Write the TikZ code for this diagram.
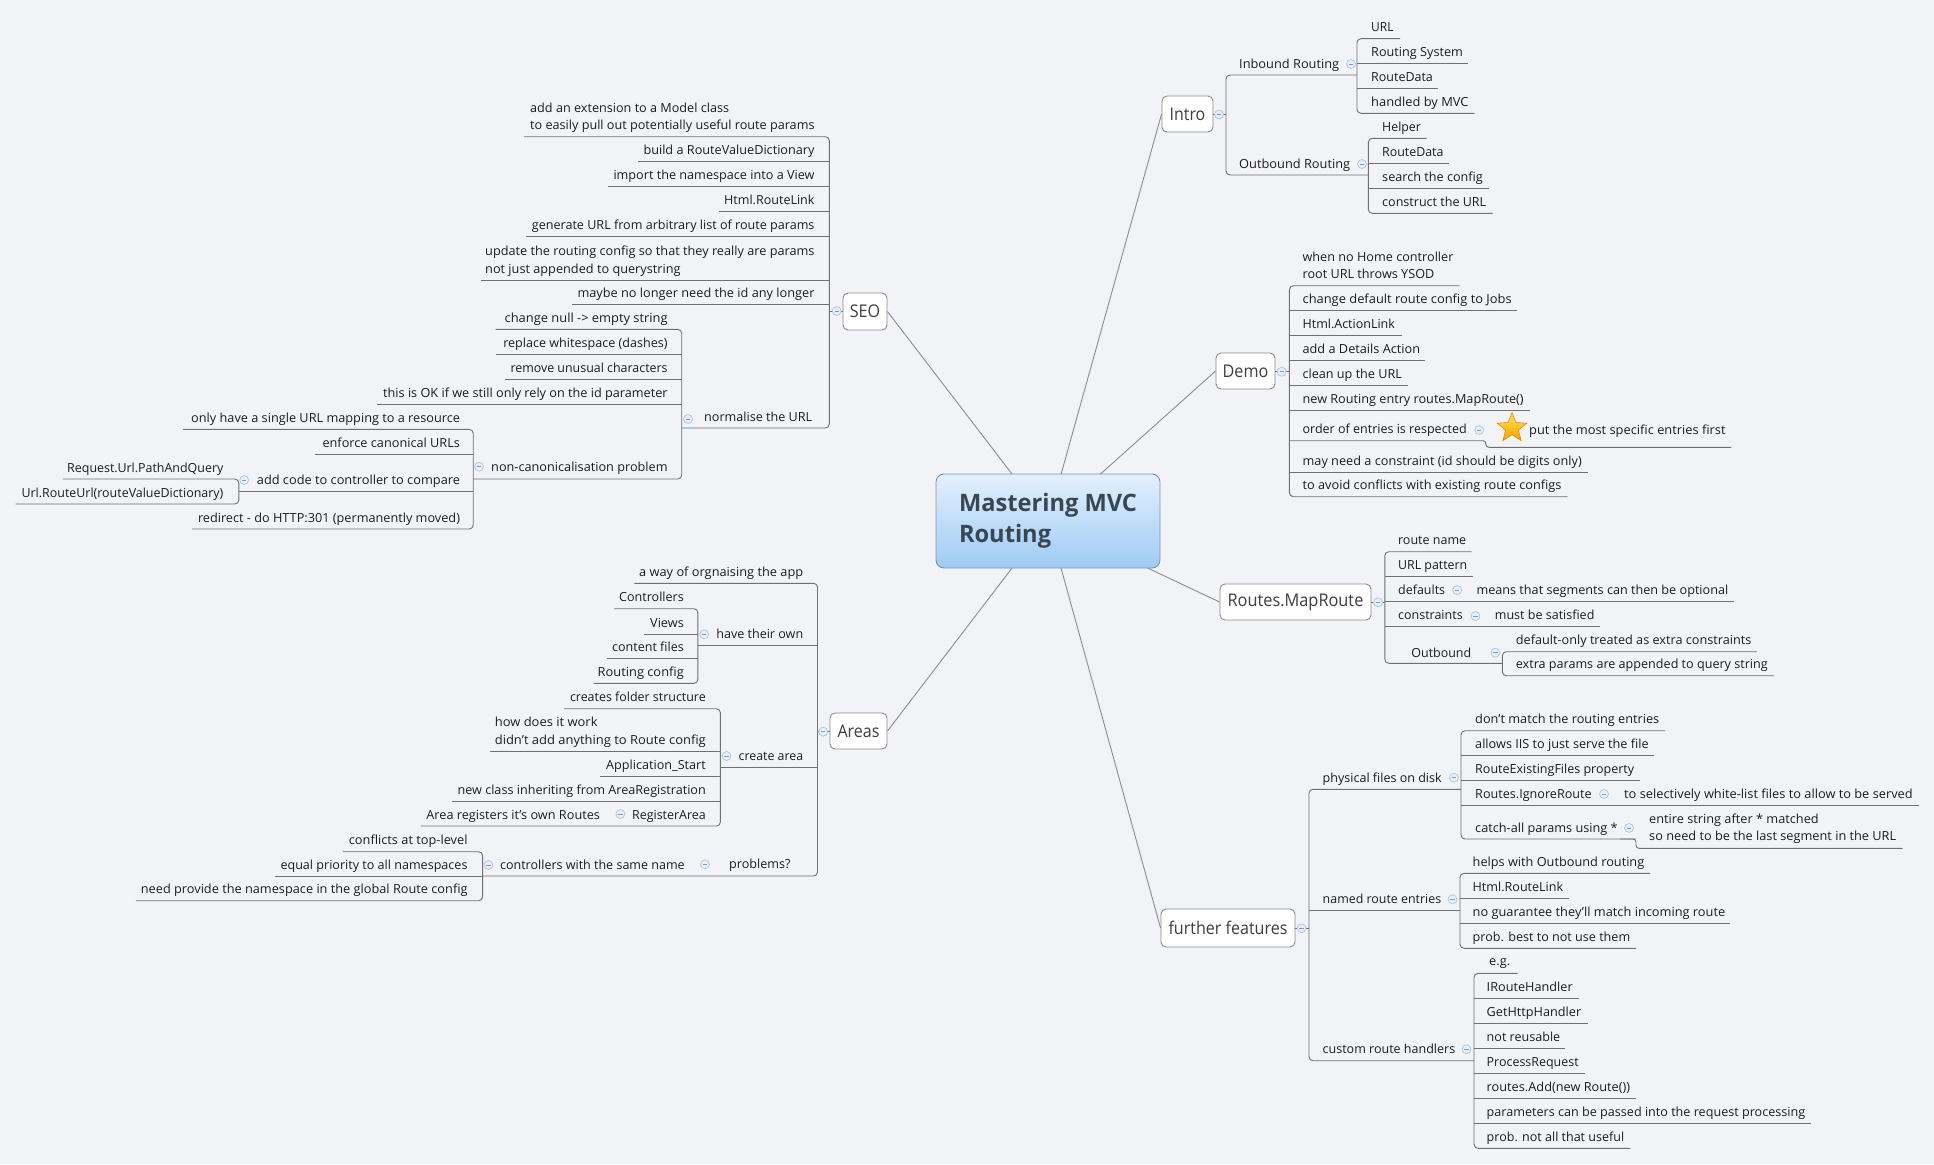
\documentclass[tikz,border=0pt]{standalone}
\usepackage{fontspec}
\setmainfont{Open Sans}
\usepackage{graphicx}
\usetikzlibrary{shapes.geometric}
\pgfdeclarelayer{bg}
\pgfsetlayers{bg,main}
\definecolor{bgc}{HTML}{F2F3F7}
\definecolor{lnc}{HTML}{707070}
\definecolor{brc}{HTML}{8C8C8C}
\definecolor{txc}{HTML}{1C1C1C}
\definecolor{mtb}{HTML}{8A8A8A}
\definecolor{btd}{HTML}{A9BED8}
\definecolor{btf}{HTML}{E6EEF8}
\definecolor{btm}{HTML}{7C9CC8}
\definecolor{rtop}{HTML}{E3F0FE}
\definecolor{rbot}{HTML}{9ECBF4}
\definecolor{rbd}{HTML}{7F91A8}
\definecolor{rtx}{HTML}{3A4653}
\definecolor{stt}{HTML}{FFE55A}
\definecolor{stb}{HTML}{F5A000}
\definecolor{std}{HTML}{D98A00}
\newcommand\T[5]{\pgfmathsetlengthmacro\tw{(#3)-(#2)}\node[txt,anchor=base west] (#1) at (#2,#4) {\resizebox{\tw}{\height}{#5}};}
\newcommand\TT[2]{\begin{tabular}[b]{@{}l@{}}#1\\#2\end{tabular}}
\newcommand\SP[5]{\draw[ln,rounded corners=4pt] (#2,#3) -- (#1,#3) -- (#1,#4) -- (#5,#4);}
\newcommand\HL[3]{\draw[ln] (#2,#1) -- (#3,#1);}
\newcommand\BT[3]{\node[btn] (#1) at (#2,#3) {};}
\begin{document}
\begin{tikzpicture}[x=1pt,y=-1pt,
  txt/.style={inner sep=0pt,text=txc,font=\fontsize{12.5}{17.5}\selectfont},
  ln/.style={draw=lnc,line width=0.9pt},
  br/.style={draw=brc,line width=0.9pt},
  mt/.style={draw=mtb,fill=white,rounded corners=5pt,inner sep=0pt,line width=0.9pt,text=txc!85!white,font=\fontsize{17.5}{20}\selectfont},
  btn/.style={circle,draw=btd,fill=btf,minimum size=9pt,inner sep=0pt,line width=0.6pt,
    path picture={\draw[btm,line width=0.8pt] ([xshift=-2.2pt]path picture bounding box.center) -- ([xshift=2.2pt]path picture bounding box.center);}},
  rootbox/.style={draw=rbd,top color=rtop,bottom color=rbot,rounded corners=8pt,line width=0.9pt,inner sep=0pt,
    minimum width=224pt,minimum height=94pt,text=rtx,font=\fontsize{24}{30.6}\selectfont\bfseries}
]
\useasboundingbox (0,0) rectangle (1934,1164);
\begin{pgfonlayer}{bg}
\fill[bgc] (0,0) rectangle (1934,1164);
\end{pgfonlayer}

% ---------- root and main topics ----------
\node[rootbox] (root) at (1048,521) {\resizebox{178pt}{\height}{\begin{tabular}{@{}l@{}}Mastering MVC\\Routing\end{tabular}}};
\node[mt,minimum width=51pt,minimum height=36pt] (intro) at (1187.5,114) {\resizebox{35.7pt}{\height}{Intro}};
\node[mt,minimum width=59pt,minimum height=36pt] (demo) at (1245.5,371) {\resizebox{45.6pt}{\height}{Demo}};
\node[mt,minimum width=151pt,minimum height=36pt] (rm) at (1295.5,602) {\resizebox{135.8pt}{\height}{Routes.MapRoute}};
\node[mt,minimum width=134pt,minimum height=38pt] (ff) at (1228,928) {\resizebox{119pt}{\height}{further features}};
\node[mt,minimum width=44pt,minimum height=37pt] (seo) at (865,311.5) {\resizebox{30.3pt}{\height}{SEO}};
\node[mt,minimum width=57pt,minimum height=36pt] (areas) at (858.5,731) {\resizebox{42pt}{\height}{Areas}};

\begin{pgfonlayer}{bg}
\draw[br] (root.center) -- (intro.west);
\draw[br] (root.center) -- (demo.west);
\draw[br] (root.center) -- (rm.west);
\draw[br] (root.center) -- (ff.west);
\draw[br] (root.center) -- (seo.east);
\draw[br] (root.center) -- (areas.east);
\end{pgfonlayer}

% ---------- Intro ----------
\draw[ln] (intro.east) -- (1226,114);
\SP{1226}{1357}{75}{175}{1368.3}
\SP{1357}{1400}{38.7}{113.3}{1474.3}
\HL{63.3}{1357}{1468}
\HL{88.3}{1357}{1438.3}
\SP{1368.3}{1426.7}{138.3}{213.3}{1492.7}
\HL{163.3}{1368.3}{1449}
\HL{188.3}{1368.3}{1489.3}
\T{ib}{1239}{1339}{68}{Inbound Routing}
\T{i1}{1371}{1393.3}{31.7}{URL}
\T{i2}{1371}{1462.7}{56.3}{Routing System}
\T{i3}{1371}{1432.7}{81.3}{RouteData}
\T{i4}{1371}{1468.3}{106.3}{handled by MVC}
\T{ob}{1239}{1350}{168}{Outbound Routing}
\T{o1}{1382}{1420.7}{131.3}{Helper}
\T{o2}{1382}{1443.3}{156.3}{RouteData}
\T{o3}{1382}{1482.7}{181.3}{search the config}
\T{o4}{1382}{1486}{206.3}{construct the URL}

% ---------- Demo ----------
\draw[ln] (demo.east) -- (1289.4,371);
\SP{1289.4}{1459.6}{285.7}{496.7}{1567.6}
\HL{310}{1289.4}{1517.4}
\HL{335.7}{1289.4}{1401.7}
\HL{360.7}{1289.4}{1425.2}
\HL{385}{1289.4}{1407.6}
\HL{410}{1289.4}{1529.7}
\HL{472.3}{1289.4}{1587.6}
\draw[ln,rounded corners=3pt] (1289.4,440.7) -- (1485.9,440.7) -- (1485.9,447.3) -- (1731.4,447.3);
\T{d1}{1302.4}{1453.2}{278.7}{\TT{when no Home controller}{root URL throws YSOD}}
\T{d2}{1302.4}{1511.5}{303}{change default route config to Jobs}
\T{d3}{1302.4}{1394.7}{328.7}{Html.ActionLink}
\T{d4}{1302.4}{1419.9}{353.7}{add a Details Action}
\T{d5}{1302.4}{1401.7}{378}{clean up the URL}
\T{d6}{1302.4}{1523.4}{403}{new Routing entry routes.MapRoute()}
\T{d7}{1302.4}{1466.6}{433.7}{order of entries is respected}
\node[star,star points=5,star point ratio=2.3,minimum size=31pt,inner sep=0pt,top color=stt,bottom color=stb,draw=std,line width=0.6pt] (star) at (1512,428) {};
\T{d7a}{1529}{1725.4}{434.5}{put the most specific entries first}
\T{d8}{1302.4}{1581.6}{465.3}{may need a constraint (id should be digits only)}
\T{d9}{1302.4}{1561.3}{489.7}{to avoid conflicts with existing route configs}

% ---------- Routes.MapRoute ----------
\draw[ln] (rm.east) -- (1384.8,602);
\SP{1384.8}{1471.7}{551.7}{663.3}{1502.3}
\HL{576.7}{1384.8}{1472.9}
\HL{601}{1384.8}{1733.9}
\HL{626}{1384.8}{1599.9}
\SP{1502.3}{1756.8}{651.7}{675.7}{1774}
\T{r1}{1397.9}{1466}{544.7}{route name}
\T{r2}{1397.9}{1467.1}{569.7}{URL pattern}
\T{r3}{1397.9}{1444.9}{594}{defaults}
\T{r3a}{1476.3}{1728.1}{594}{means that segments can then be optional}
\T{r4}{1397.9}{1462.5}{619}{constraints}
\T{r4a}{1494.7}{1594.2}{619}{must be satisfied}
\T{r5}{1411.2}{1471}{657}{Outbound}
\T{r5a}{1515.7}{1751.1}{644.7}{default-only treated as extra constraints}
\T{r5b}{1515.7}{1767.5}{668.7}{extra params are appended to query string}

% ---------- further features ----------
\draw[ln] (ff.east) -- (1309,928);
\SP{1309}{1461}{789.3}{1060.7}{1474}
\HL{910.7}{1309}{1460}
\SP{1461}{1665}{730.7}{839}{1636}
\HL{755.7}{1461}{1654}
\HL{780.7}{1461}{1640}
\HL{805.3}{1461}{1919}
\draw[ln,rounded corners=3pt] (1620,839) -- (1636,839) -- (1636,848.3) -- (1902.5,848.3);
\SP{1460}{1650}{873.3}{948.3}{1636}
\HL{898.3}{1460}{1569}
\HL{923.3}{1460}{1730}
\SP{1474}{1517.5}{973.3}{1148.3}{1630}
\HL{998.3}{1474}{1579}
\HL{1023.3}{1474}{1587.5}
\HL{1048.3}{1474}{1565}
\HL{1073.3}{1474}{1585}
\HL{1098.3}{1474}{1636}
\HL{1123.3}{1474}{1811}
\T{fa}{1322.5}{1441.5}{782.3}{physical files on disk}
\T{fa1}{1475}{1659}{723.7}{don't match the routing entries}
\T{fa2}{1475}{1648.5}{748.7}{allows IIS to just serve the file}
\T{fa3}{1475}{1634}{773.7}{RouteExistingFiles property}
\T{fa4}{1475}{1591.5}{798.3}{Routes.IgnoreRoute}
\T{fa4a}{1624}{1912.5}{798.3}{to selectively white-list files to allow to be served}
\T{fa5}{1475}{1617.5}{832.5}{catch-all params using *}
\T{fa5a}{1649}{1896}{840.8}{\TT{entire string after * matched}{so need to be the last segment in the URL}}
\T{fb}{1322.5}{1441}{903.7}{named route entries}
\T{fb1}{1472.5}{1644}{866.3}{helps with Outbound routing}
\T{fb2}{1472.5}{1563}{891.3}{Html.RouteLink}
\T{fb3}{1472.5}{1725}{916.3}{no guarantee they'll match incoming route}
\T{fb4}{1472.5}{1630}{941.3}{prob. best to not use them}
\T{fc}{1322.5}{1455}{1053.7}{custom route handlers}
\T{fc0}{1489}{1510}{965.5}{e.g.}
\T{fc1}{1486.5}{1572.5}{991.3}{IRouteHandler}
\T{fc2}{1486.5}{1581}{1016.3}{GetHttpHandler}
\T{fc3}{1486.5}{1560}{1041.3}{not reusable}
\T{fc4}{1486.5}{1578.5}{1066.3}{ProcessRequest}
\T{fc5}{1486.5}{1630}{1091.3}{routes.Add(new Route())}
\T{fc6}{1486.5}{1805}{1116.3}{parameters can be passed into the request processing}
\T{fc7}{1486.5}{1624}{1141.3}{prob. not all that useful}

% ---------- SEO ----------
\draw[ln] (seo.west) -- (829.3,311.5);
\SP{829.3}{524}{136.7}{428}{681.7}
\HL{161.7}{638.3}{829.3}
\HL{186.7}{608.3}{829.3}
\HL{211.7}{719.3}{829.3}
\HL{236.7}{526}{829.3}
\HL{280}{481}{829.3}
\HL{304.3}{571.7}{829.3}
\SP{681.7}{495.5}{329.3}{479}{473.2}
\HL{354.3}{495.5}{681.7}
\HL{379.3}{504.5}{681.7}
\HL{404}{377.2}{681.7}
\SP{473.2}{183}{429.3}{529}{192}
\HL{454.3}{314.7}{473.2}
\HL{491}{238.8}{473.2}
\SP{238.8}{62.5}{479}{504}{15.6}
\T{s1}{530}{814.3}{129.7}{\TT{add an extension to a Model class}{to easily pull out potentially useful route params}}
\T{s2}{643.3}{814.3}{154.7}{build a RouteValueDictionary}
\T{s3}{613.3}{814.3}{179.7}{import the namespace into a View}
\T{s4}{724}{814.3}{204.7}{Html.RouteLink}
\T{s5}{531.7}{814.3}{229.7}{generate URL from arbitrary list of route params}
\T{s6}{485}{814.3}{273}{\TT{update the routing config so that they really are params}{not just appended to querystring}}
\T{s7}{577.3}{814.3}{297.3}{maybe no longer need the id any longer}
\T{s8}{704}{812}{421}{normalise the URL}
\T{n1}{504.5}{667.4}{322.3}{change null -> empty string}
\T{n2}{503.1}{667.4}{347.3}{replace whitespace (dashes)}
\T{n3}{510.3}{667.4}{372.3}{remove unusual characters}
\T{n4}{383}{667.4}{397}{this is OK if we still only rely on the id parameter}
\T{n5}{491}{667.4}{471.5}{non-canonicalisation problem}
\T{c1}{191}{459.8}{422.3}{only have a single URL mapping to a resource}
\T{c2}{322.3}{459.8}{447.3}{enforce canonical URLs}
\T{c3}{256.7}{459.8}{484.5}{add code to controller to compare}
\T{c3a}{67}{223.2}{472}{Request.Url.PathAndQuery}
\T{c3b}{21.4}{223.2}{497}{Url.RouteUrl(routeValueDictionary)}
\T{c4}{197.8}{459.8}{522}{redirect - do HTTP:301 (permanently moved)}

% ---------- Areas ----------
\draw[ln] (areas.west) -- (817.5,731);
\SP{817.5}{634.3}{583.3}{876}{482.6}
\HL{645.7}{697.9}{817.5}
\HL{767.3}{720.4}{817.5}
\SP{697.9}{614.2}{608.7}{683.3}{593.6}
\HL{634}{643.8}{697.9}
\HL{658.3}{607}{697.9}
\SP{720.4}{564}{708.7}{826}{420.5}
\HL{751.3}{489.8}{720.4}
\HL{776.3}{599.8}{720.4}
\HL{801}{451.6}{720.4}
\SP{482.6}{342.5}{851.7}{900.7}{135.9}
\HL{876}{274.6}{482.6}
\T{a1}{639}{803}{576.3}{a way of orgnaising the app}
\T{a2}{716.1}{803}{638.7}{have their own}
\T{a21}{619}{683.6}{601.7}{Controllers}
\T{a22}{650}{683.6}{627}{Views}
\T{a23}{612}{683.6}{651.3}{content files}
\T{a24}{597.5}{683.6}{676.3}{Routing config}
\T{a3}{738.5}{803}{760.3}{create area}
\T{a31}{569.8}{705.6}{701.7}{creates folder structure}
\T{a32}{494.6}{705.6}{744.3}{\TT{how does it work}{didn't add anything to Route config}}
\T{a33}{606}{705.6}{769.3}{Application\_Start}
\T{a34}{457.4}{705.6}{794}{new class inheriting from AreaRegistration}
\T{a35}{631.9}{705.6}{819}{RegisterArea}
\T{a35a}{426.2}{599.8}{819}{Area registers it's own Routes}
\T{a4}{729}{790.2}{868.7}{problems?}
\T{a4a}{499.9}{684.5}{869}{controllers with the same name}
\T{a41}{348.7}{467.3}{844.7}{conflicts at top-level}
\T{a42}{280.3}{467.3}{869}{equal priority to all namespaces}
\T{a43}{140.7}{467.3}{893.7}{need provide the namespace in the global Route config}

% ---------- collapse buttons ----------
\BT{bintro}{1219}{114.5}
\BT{bib}{1351}{64}
\BT{bob}{1362}{164}
\BT{bdemo}{1281.7}{371.7}
\BT{bd7}{1479.2}{430}
\BT{brm}{1378}{602.3}
\BT{br3}{1457.2}{590}
\BT{br4}{1475.5}{616}
\BT{br5}{1495.4}{652.7}
\BT{bff}{1301.5}{928.3}
\BT{bfa}{1454}{777.7}
\BT{bfa4}{1604}{794}
\BT{bfa5}{1629}{828}
\BT{bfb}{1452.5}{899.3}
\BT{bfc}{1466.5}{1049.3}
\BT{bseo}{836.7}{311}
\BT{bs8}{688}{419}
\BT{bn5}{479}{466.7}
\BT{bc3}{244.2}{480}
\BT{bareas}{823.2}{731.7}
\BT{ba2}{704.1}{634.3}
\BT{ba3}{726.6}{756}
\BT{ba35}{620.4}{814}
\BT{ba4}{705}{864.3}
\BT{ba4a}{488.4}{865}
\end{tikzpicture}
\end{document}
